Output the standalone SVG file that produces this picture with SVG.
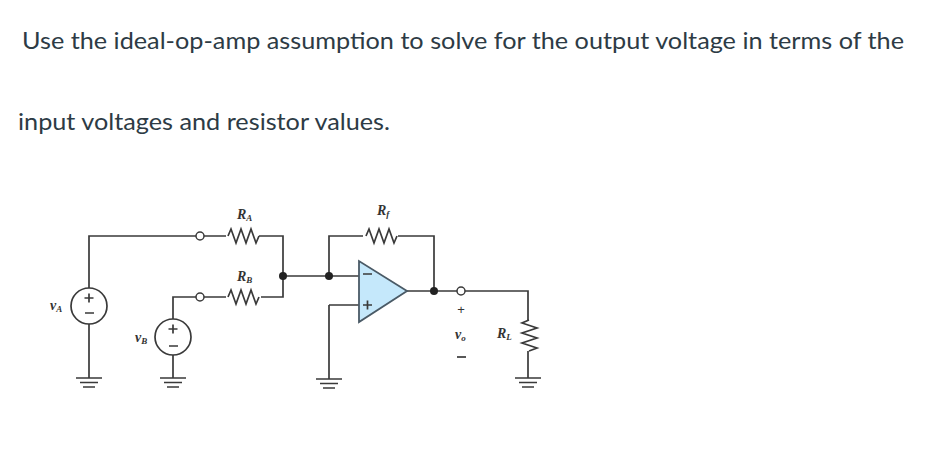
<svg xmlns="http://www.w3.org/2000/svg" width="940" height="450" viewBox="0 0 940 450">
<style>
.t{font-family:Lato,"Liberation Sans",sans-serif;font-size:24px;fill:#2d3b45}
.w{fill:none;stroke:#3a3a3a;stroke-width:1.7;stroke-linejoin:miter}
.src{fill:#fff;stroke:#3a3a3a;stroke-width:1.7}
.o{fill:#fff;stroke:#3a3a3a;stroke-width:1.5}
.d{fill:#222}
.l{font-family:"Liberation Serif",serif;font-style:italic;font-weight:bold;font-size:14px;fill:#333}
.s{font-size:9px}
.p{font-family:"Liberation Sans",sans-serif;font-size:13px;fill:#333;text-anchor:middle}
</style>
<defs>
<g id="gnd"><path class="w" d="M-13 0H13M-9 4.500H9M-6 9H6"/></g>
<path id="res" class="w" d="M0 0L3-7 8 7 13-7 18 7 23-7 28 7 31 0"/>
</defs>
<text class="t" x="22" y="49" textLength="882" lengthAdjust="spacingAndGlyphs">Use the ideal-op-amp assumption to solve for the output voltage in terms of the</text>
<text class="t" x="18" y="130" textLength="372" lengthAdjust="spacingAndGlyphs">input voltages and resistor values.</text>
<g id="connectors">
<path class="w" d="M89 288V236H226M89 324V378"/>
<path class="w" d="M259 236H283V297H261M226 297H173V319M173 355V378"/>
<path class="w" d="M283 276H359M329 276V236H363M398 236H434V291M329 305H359M329 305V379"/>
<path class="w" d="M407 291H528V320M528 351V378"/>
</g>
<g id="vA"><circle class="src" cx="89" cy="306" r="18"/><path class="w" d="M84.500 298H93.500M89 293.500V302.500M85 313H94"/><text class="l" x="50" y="310">v<tspan class="s" dy="2">A</tspan></text></g>
<g id="vB"><circle class="src" cx="173" cy="337" r="18"/><path class="w" d="M168.500 329H177.500M173 324.500V333.500M169 346H178"/><text class="l" x="135" y="342">v<tspan class="s" dy="2">B</tspan></text></g>
<g id="gndA"><use href="#gnd" x="89" y="378"/></g>
<g id="gndB"><use href="#gnd" x="173" y="378"/></g>
<g id="gndP"><use href="#gnd" x="329" y="379"/></g>
<g id="gndL"><use href="#gnd" x="528" y="378"/></g>
<g id="RA"><circle class="o" cx="200" cy="236" r="4"/><use href="#res" x="228" y="236"/><text class="l" x="237" y="219">R<tspan class="s" dy="2">A</tspan></text></g>
<g id="RB"><circle class="o" cx="200" cy="297" r="4"/><use href="#res" x="228" y="297"/><text class="l" x="237" y="281">R<tspan class="s" dy="2">B</tspan></text></g>
<g id="Rf"><use href="#res" x="366" y="236"/><text class="l" x="377" y="215">R<tspan class="s" dy="2">f</tspan></text></g>
<g id="RL"><path class="w" d="M529 320L522 323 537 328 522 333 537 338 522 343 537 348 529 351"/><text class="l" x="497" y="338">R<tspan class="s" dy="2">L</tspan></text></g>
<g id="opamp"><path d="M359 261V322L407 291Z" fill="#c5e8fb" stroke="#4a5a66" stroke-width="1.8"/><path class="w" d="M363 274H372M363 305H372M367.500 300.500V309.500"/></g>
<g id="n1"><circle class="d" cx="283" cy="276" r="4"/></g>
<g id="n2"><circle class="d" cx="329" cy="276" r="4"/></g>
<g id="n3"><circle class="d" cx="434" cy="291" r="4"/></g>
<g id="out"><circle class="o" cx="461" cy="291" r="4"/><text class="p" x="461" y="314">+</text><text class="l" x="455" y="339">v<tspan class="s" dy="2">o</tspan></text><path class="w" d="M457 357H466"/></g>
</svg>
